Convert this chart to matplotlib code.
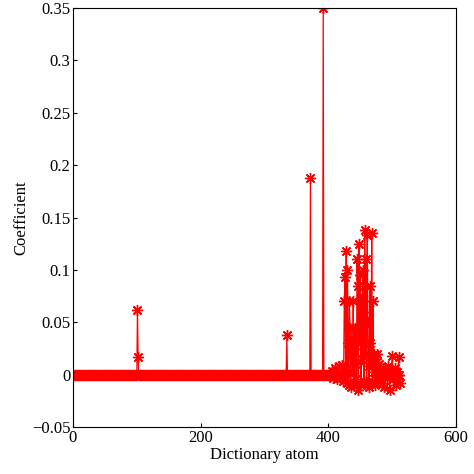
import numpy as np
import matplotlib
matplotlib.use('Agg')
import matplotlib.pyplot as plt

plt.rcParams['font.family'] = ['Liberation Serif', 'DejaVu Serif']

n_atoms = 512
# nonzero coefficients (atom index, value)
idx = [101, 102, 335, 372, 392,
       405, 408, 411, 414, 417, 419, 421, 423, 425, 426, 427, 428, 429, 430, 431, 432,
       433, 434, 435, 436, 437, 438, 439, 440, 441, 442, 443, 444, 445, 446, 447, 448,
       449, 450, 451, 452, 453, 454, 455, 456, 457, 458, 459, 460, 461, 462, 463, 464,
       465, 466, 467, 468, 469, 470, 471, 472, 473, 474, 475, 476, 477, 478, 479, 480,
       482, 484, 486, 488, 490, 492, 494, 496, 498, 500, 502, 504, 506, 508, 510, 512]
val = [0.062, 0.017, 0.038, 0.188, 0.35,
       0.004, -0.003, 0.006, -0.004, 0.008, -0.002, 0.009, -0.006, 0.07, 0.093, 0.005, 0.118, -0.008, 0.10, 0.03, -0.01,
       0.07, 0.045, -0.012, 0.035, 0.02, 0.002, 0.07, -0.008, 0.025, 0.045, 0.01, -0.004, 0.11, 0.085, -0.015, 0.125,
       0.03, 0.095, -0.01, 0.075, 0.015, 0.10, 0.06, -0.006, 0.138, 0.02, 0.11, -0.01, 0.133, 0.05, 0.008, -0.012,
       0.085, 0.03, 0.01, 0.135, -0.006, 0.07, 0.02, 0.003, -0.01, 0.015, -0.004, 0.007, 0.02, -0.006, 0.01, -0.003,
       0.004, -0.008, 0.006, -0.012, 0.005, -0.003, 0.008, -0.015, 0.003, 0.018, -0.004, 0.006, -0.01, 0.003, 0.017, -0.008]

coef = np.zeros(n_atoms)
for i, v in zip(idx, val):
    coef[i - 1] = v
atoms = np.arange(1, n_atoms + 1)

fig = plt.figure(figsize=(4.74, 4.74), dpi=100)
ax = fig.add_axes([0.154, 0.099, 0.808, 0.884])
ax.plot(atoms, coef, color='red', linewidth=0.9, marker=(8, 2, 0), markersize=8,
        markeredgewidth=1.0)
ax.set_xlim(0, 600)
ax.set_ylim(-0.05, 0.35)
ax.set_xticks([0, 200, 400, 600])
ax.set_yticks([-0.05, 0, 0.05, 0.1, 0.15, 0.2, 0.25, 0.3, 0.35])
ax.set_yticklabels(['\u22120.05', '0', '0.05', '0.1', '0.15', '0.2', '0.25', '0.3', '0.35'])
ax.tick_params(direction='in', labelsize=12, length=3, pad=2)
ax.set_xlabel('Dictionary atom', fontsize=12, labelpad=1)
ax.set_ylabel('Coefficient', fontsize=12, labelpad=2)
fig.savefig('out.png', dpi=100)
